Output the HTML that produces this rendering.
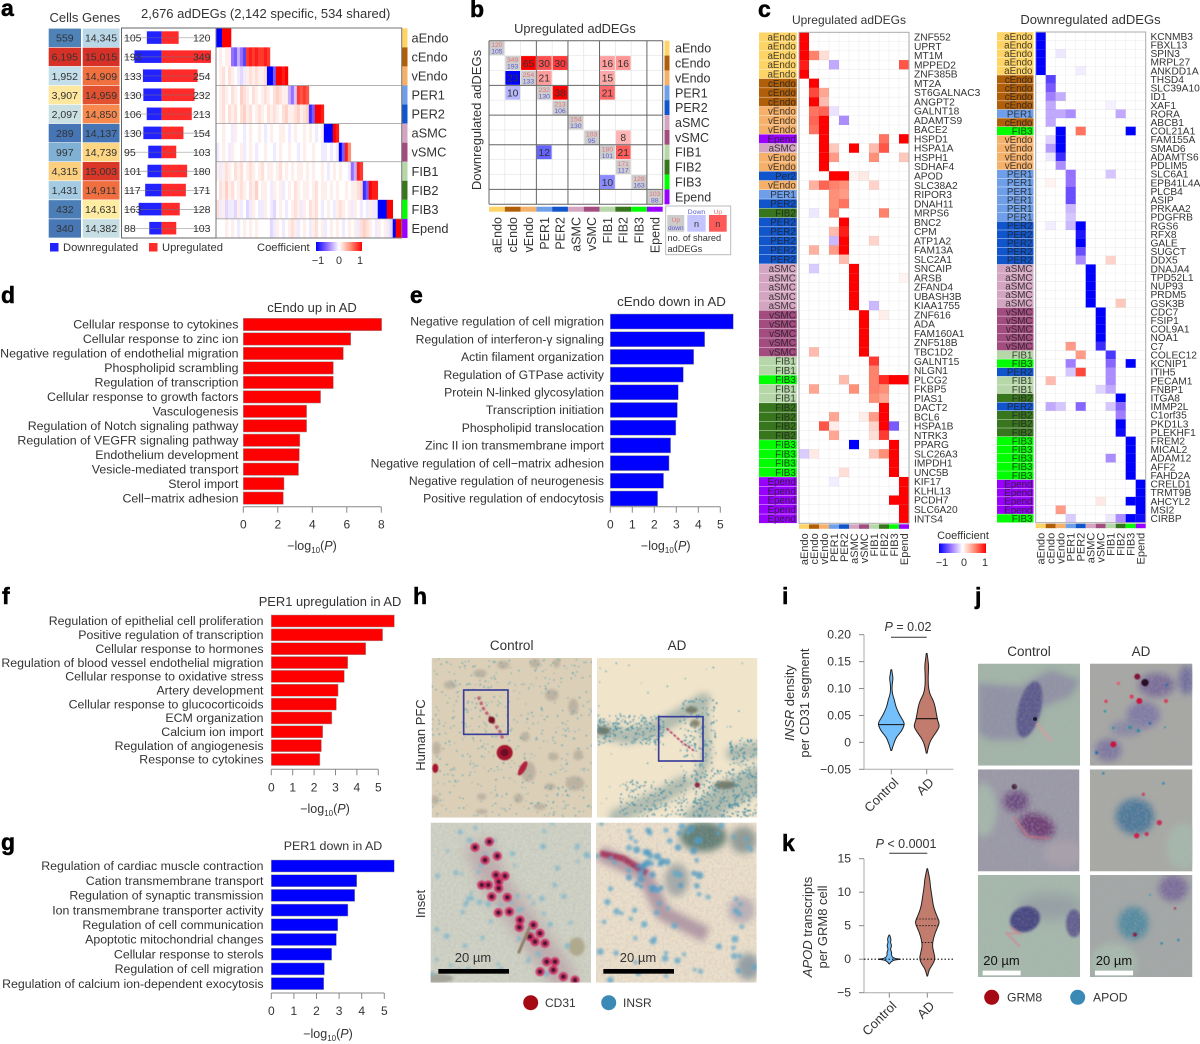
<!DOCTYPE html>
<html lang="en">
<head>
<meta charset="utf-8">
<title>adDEG figure</title>
<style>
html,body{margin:0;padding:0;background:#fff;}
svg{display:block;font-family:"Liberation Sans",Arial,sans-serif;fill:#333;}
.panel-letter{font-family:"Liberation Sans",sans-serif;font-weight:bold;font-size:23px;fill:#000;stroke:#000;stroke-width:.5px;}
</style>
</head>
<body>
<svg id="figure" xmlns="http://www.w3.org/2000/svg" width="1200" height="1044" viewBox="0 0 1200 1044">
<defs>
<linearGradient id="coefGrad" x1="0" x2="1" y1="0" y2="0">
<stop offset="0" stop-color="#0000ff"/><stop offset=".25" stop-color="#9670ff"/><stop offset=".5" stop-color="#ffffff"/><stop offset=".75" stop-color="#ff9078"/><stop offset="1" stop-color="#ff0000"/>
</linearGradient>
<filter id="blur2" x="-10%" y="-10%" width="120%" height="120%"><feGaussianBlur stdDeviation="1.6"/></filter>
<filter id="blur4" x="-30%" y="-30%" width="160%" height="160%"><feGaussianBlur stdDeviation="4"/></filter>
<filter id="blur10" x="-30%" y="-30%" width="160%" height="160%"><feGaussianBlur stdDeviation="10"/></filter>
<filter id="blur18" x="-40%" y="-40%" width="180%" height="180%"><feGaussianBlur stdDeviation="18"/></filter>
<filter id="grain" x="0" y="0" width="100%" height="100%"><feTurbulence type="fractalNoise" baseFrequency=".12" numOctaves="2" seed="4"/><feColorMatrix type="matrix" values="0 0 0 0 .42  0 0 0 0 .38  0 0 0 0 .46  0 0 0 1.6 -.62"/></filter>
<clipPath id="cH1"><rect x="35" y="54" width="481" height="479"/></clipPath>
<clipPath id="cH2"><rect x="531" y="54" width="481" height="479"/></clipPath>
<clipPath id="cH3"><rect x="32" y="548" width="481" height="480"/></clipPath>
<clipPath id="cH4"><rect x="528" y="548" width="482" height="480"/></clipPath>
<clipPath id="cJ1"><rect x="24" y="71" width="306" height="306"/></clipPath>
<clipPath id="cJ2"><rect x="24" y="388" width="304" height="306"/></clipPath>
<clipPath id="cJ3"><rect x="24" y="705" width="306" height="306"/></clipPath>
<clipPath id="cJ4"><rect x="360" y="71" width="307" height="306"/></clipPath>
<clipPath id="cJ5"><rect x="360" y="388" width="307" height="306"/></clipPath>
<clipPath id="cJ6"><rect x="360" y="705" width="307" height="306"/></clipPath>
</defs>

<text class="panel-letter" x="1" y="16">a</text>
<text class="panel-letter" x="470" y="17">b</text>
<text class="panel-letter" x="758" y="17">c</text>
<text class="panel-letter" x="1" y="303">d</text>
<text class="panel-letter" x="410" y="303">e</text>
<text class="panel-letter" x="2" y="604">f</text>
<text class="panel-letter" x="1" y="850">g</text>
<text class="panel-letter" x="413" y="604">h</text>
<text class="panel-letter" x="782" y="604">i</text>
<text class="panel-letter" x="975" y="604">j</text>
<text class="panel-letter" x="782" y="851">k</text>

<g id="panel-a">
<text x="49.5" y="22" font-size="13">Cells</text>
<text x="82" y="22" font-size="13">Genes</text>
<text x="141" y="18" font-size="13">2,676 adDEGs (2,142 specific, 534 shared)</text>
<rect x="50" y="243" width="8.5" height="8.5" fill="#2222ff"/>
<text x="63" y="251" font-size="11.2">Downregulated</text>
<rect x="149" y="243" width="8.5" height="8.5" fill="#ff2a2a"/>
<text x="162" y="251" font-size="11.2">Upregulated</text>
<text x="257" y="251" font-size="11.2">Coefficient</text>
<rect x="316" y="242" width="46" height="9" fill="url(#coefGrad)"/>
<text x="318" y="264" font-size="10.8" text-anchor="middle">−1</text>
<text x="339" y="264" font-size="10.8" text-anchor="middle">0</text>
<text x="360" y="264" font-size="10.8" text-anchor="middle">1</text>
</g>

<g id="panel-b">
<text x="575" y="33" font-size="12.8" text-anchor="middle">Upregulated adDEGs</text>
<text transform="translate(481,120) rotate(-90)" font-size="13" text-anchor="middle">Downregulated adDEGs</text>
<rect x="665.7" y="206" width="65" height="48.7" fill="#fff" stroke="#bbb"/>
<rect x="667.3" y="215" width="17" height="16.7" fill="#ccc"/>
<text x="675.8" y="222" font-size="6.5" text-anchor="middle" fill="#e57373">Up</text>
<text x="675.8" y="230" font-size="6.5" text-anchor="middle" fill="#5a5ad6">down</text>
<rect x="687.3" y="215" width="18.4" height="16.7" fill="#c4c4ff"/>
<text x="696.5" y="227" font-size="9" text-anchor="middle">n</text>
<text x="696.5" y="214" font-size="6.8" text-anchor="middle" fill="#5a5ad6">Down</text>
<rect x="709" y="215" width="17.7" height="16.7" fill="#ff5a5a"/>
<text x="717.8" y="227" font-size="9" text-anchor="middle">n</text>
<text x="717.8" y="214" font-size="6.8" text-anchor="middle" fill="#e57373">Up</text>
<text x="667.5" y="241" font-size="9.2">no. of shared</text>
<text x="667.5" y="252" font-size="9.2">adDEGs</text>
</g>

<g id="panel-c">
<text x="849" y="24" font-size="12" text-anchor="middle">Upregulated adDEGs</text>
<text x="1090.5" y="24" font-size="13" text-anchor="middle">Downregulated adDEGs</text>
<text x="963" y="539" font-size="11" text-anchor="middle">Coefficient</text>
<rect x="939" y="543.5" width="47" height="9.5" fill="url(#coefGrad)"/>
<text x="942" y="566" font-size="10.8" text-anchor="middle">−1</text>
<text x="964" y="566" font-size="10.8" text-anchor="middle">0</text>
<text x="985" y="566" font-size="10.8" text-anchor="middle">1</text>
</g>

<g id="panel-d">
<text x="312" y="312" font-size="13" text-anchor="middle">cEndo up in AD</text>
<text x="312" y="550" font-size="12.5" text-anchor="middle">−log<tspan font-size="8" dy="3">10</tspan><tspan dy="-3">(</tspan><tspan font-style="italic">P</tspan>)</text>
</g>
<g id="panel-e">
<text x="671.5" y="306" font-size="13.3" text-anchor="middle">cEndo down in AD</text>
<text x="665.7" y="550" font-size="12.5" text-anchor="middle">−log<tspan font-size="8" dy="3">10</tspan><tspan dy="-3">(</tspan><tspan font-style="italic">P</tspan>)</text>
</g>
<g id="panel-f">
<text x="330" y="606" font-size="12.9" text-anchor="middle">PER1 upregulation in AD</text>
<text x="325" y="813" font-size="12.5" text-anchor="middle">−log<tspan font-size="8" dy="3">10</tspan><tspan dy="-3">(</tspan><tspan font-style="italic">P</tspan>)</text>
</g>
<g id="panel-g">
<text x="333" y="850" font-size="12.4" text-anchor="middle">PER1 down in AD</text>
<text x="328" y="1038" font-size="12.5" text-anchor="middle">−log<tspan font-size="8" dy="3">10</tspan><tspan dy="-3">(</tspan><tspan font-style="italic">P</tspan>)</text>
</g>

<g id="panel-h">
<text x="511.7" y="650" font-size="13.5" text-anchor="middle">Control</text>
<text x="677" y="650" font-size="13.5" text-anchor="middle">AD</text>
<text transform="translate(425,735) rotate(-90)" font-size="13" text-anchor="middle">Human PFC</text>
<text transform="translate(425,904) rotate(-90)" font-size="13" text-anchor="middle">Inset</text>
<g transform="translate(420,640) scale(.33333)">
<g id="h1" clip-path="url(#cH1)">
<rect x="35" y="54" width="481" height="479" fill="#dccfb8"/>
<g fill="#a29c90" opacity=".55" filter="url(#blur4)">
<ellipse cx="180" cy="100" rx="20" ry="12"/><ellipse cx="90" cy="135" rx="18" ry="12"/><ellipse cx="250" cy="75" rx="18" ry="12"/><ellipse cx="345" cy="70" rx="16" ry="14"/><ellipse cx="410" cy="70" rx="10" ry="14"/><ellipse cx="395" cy="165" rx="20" ry="18"/><ellipse cx="460" cy="200" rx="15" ry="24"/><ellipse cx="315" cy="290" rx="14" ry="14"/><ellipse cx="475" cy="345" rx="14" ry="16"/><ellipse cx="400" cy="350" rx="16" ry="12"/><ellipse cx="465" cy="430" rx="28" ry="22"/><ellipse cx="295" cy="475" rx="14" ry="14"/><ellipse cx="185" cy="470" rx="14" ry="10"/><ellipse cx="185" cy="515" rx="18" ry="8"/><ellipse cx="360" cy="500" rx="18" ry="10"/><ellipse cx="50" cy="325" rx="12" ry="20"/><ellipse cx="45" cy="480" rx="12" ry="14"/><ellipse cx="325" cy="395" rx="22" ry="30"/><ellipse cx="390" cy="440" rx="16" ry="10"/>
</g>
<g id="h1-dots" filter="url(#blur2)"></g>
<g filter="url(#blur2)">
<path d="M175 170 L190 205 L215 240 L240 275 L250 300" stroke="#b23a58" stroke-width="9" stroke-dasharray="10 7" fill="none" opacity=".75"/>
<ellipse cx="254" cy="338" rx="24" ry="23" fill="#a5142e"/><ellipse cx="254" cy="338" rx="12" ry="11" fill="#6a0f26"/>
<ellipse cx="215" cy="240" rx="10" ry="10" fill="#761425"/><ellipse cx="308" cy="385" rx="9" ry="24" fill="#b5203c" transform="rotate(30 308 385)"/><ellipse cx="46" cy="385" rx="9" ry="14" fill="#a5142e"/>
</g>
</g>
<g id="h2" clip-path="url(#cH2)">
<rect x="531" y="54" width="481" height="479" fill="#f0e4cb"/>
<g fill="none" stroke="#87a09c" opacity=".6" filter="url(#blur10)" stroke-linecap="round">
<path d="M531 270 L620 290 L700 270 L790 220 L850 180" stroke-width="44"/>
<path d="M590 530 L720 470 L790 430" stroke-width="46"/>
<path d="M830 540 L910 470 L1012 420" stroke-width="80"/>
<path d="M850 200 L860 350 L830 430" stroke-width="26"/>
<path d="M940 340 L1012 330" stroke-width="44"/>
</g>
<g fill="#5e5f4c" opacity=".7" filter="url(#blur4)"><ellipse cx="815" cy="210" rx="18" ry="10"/><ellipse cx="550" cy="272" rx="20" ry="12"/><ellipse cx="915" cy="435" rx="32" ry="12"/><ellipse cx="825" cy="250" rx="14" ry="12"/></g>
<g id="h2-dots" filter="url(#blur2)"></g>
<path d="M740 265 L790 310 L822 332" stroke="#ad3a66" stroke-width="5" fill="none" stroke-dasharray="9 5" filter="url(#blur2)"/>
<circle cx="832" cy="435" r="8" fill="#8c2c4a" filter="url(#blur2)"/>
</g>
<rect x="131" y="150" width="133" height="133" fill="none" stroke="#3a3f9a" stroke-width="5"/>
<rect x="716" y="230" width="133" height="133" fill="none" stroke="#3a3f9a" stroke-width="5"/>
<g id="h3" clip-path="url(#cH3)">
<rect x="32" y="548" width="481" height="480" fill="#cfd2c4"/>
<path d="M170 610 L230 740 L320 860 L440 1030" stroke="#b99ea4" stroke-width="80" fill="none" opacity=".7" filter="url(#blur18)"/>
<ellipse cx="470" cy="920" rx="24" ry="28" fill="#a9a17e" opacity=".8" filter="url(#blur4)"/>
<ellipse cx="50" cy="1015" rx="50" ry="14" fill="#9a9a8c" opacity=".8" filter="url(#blur4)"/>
<g id="h3-dots" filter="url(#blur4)"></g>
<rect x="32" y="548" width="481" height="480" filter="url(#grain)" opacity=".35"/>
<g id="h3-red" filter="url(#blur2)"></g>
<path d="M330 860 L295 940" stroke="#8d8468" stroke-width="9" filter="url(#blur2)"/>
</g>
<g id="h4" clip-path="url(#cH4)">
<rect x="528" y="548" width="482" height="480" fill="#ebdfca"/>
<ellipse cx="850" cy="590" rx="70" ry="45" fill="#4e7068" opacity=".85" filter="url(#blur10)"/>
<ellipse cx="970" cy="600" rx="40" ry="40" fill="#7a8b88" opacity=".8" filter="url(#blur10)"/>
<path d="M540 640 L670 700 L730 820 L860 885" stroke="#a48a9c" stroke-width="46" fill="none" opacity=".8" filter="url(#blur10)"/>
<ellipse cx="770" cy="720" rx="36" ry="50" fill="#8f9a9c" opacity=".75" filter="url(#blur10)"/>
<ellipse cx="965" cy="810" rx="40" ry="40" fill="#a89eb0" opacity=".7" filter="url(#blur10)"/>
<ellipse cx="985" cy="980" rx="34" ry="40" fill="#7d8f9a" opacity=".8" filter="url(#blur10)"/>
<path d="M540 640 L610 655 L680 700" stroke="#a31a48" stroke-width="18" fill="none" opacity=".8" filter="url(#blur4)"/>
<g id="h4-dots" filter="url(#blur4)"></g>
<rect x="528" y="548" width="482" height="480" filter="url(#grain)" opacity=".35"/>
</g>
<rect x="55" y="987" width="212" height="14" fill="#000"/>
<rect x="550" y="987" width="212" height="14" fill="#000"/>
</g>
<text x="473" y="962" font-size="13" text-anchor="middle">20 µm</text>
<text x="638" y="962" font-size="13" text-anchor="middle">20 µm</text>
<circle cx="530.7" cy="1002.7" r="7.5" fill="#a50a14"/>
<text x="545" y="1007" font-size="12">CD31</text>
<circle cx="608.7" cy="1002.7" r="7.5" fill="#3a8ab5"/>
<text x="623" y="1007" font-size="12">INSR</text>
</g>

<g id="panel-i">
<text x="908" y="631" font-size="12.5" text-anchor="middle"><tspan font-style="italic">P</tspan> = 0.02</text>
<line x1="891" x2="926.7" y1="637.3" y2="637.3" stroke="#333" stroke-width="1"/>
<text transform="translate(794,703) rotate(-90)" font-size="13" text-anchor="middle"><tspan font-style="italic">INSR</tspan> density</text>
<text transform="translate(809,703) rotate(-90)" font-size="13" text-anchor="middle">per CD31 segment</text>
</g>
<g id="panel-k">
<text x="906" y="848" font-size="12.5" text-anchor="middle"><tspan font-style="italic">P</tspan> &lt; 0.0001</text>
<line x1="889.3" x2="927.3" y1="853.3" y2="853.3" stroke="#333" stroke-width="1"/>
<text transform="translate(812,927) rotate(-90)" font-size="13" text-anchor="middle"><tspan font-style="italic">APOD</tspan> transcripts</text>
<text transform="translate(827,927) rotate(-90)" font-size="13" text-anchor="middle">per GRM8 cell</text>
</g>

<g id="panel-j">
<text x="1029" y="656" font-size="13.5" text-anchor="middle">Control</text>
<text x="1141" y="656" font-size="13.5" text-anchor="middle">AD</text>
<g transform="translate(970,640) scale(.33333)">
<g clip-path="url(#cJ1)">
<rect x="24" y="71" width="306" height="306" fill="#a3b5a8"/>
<path d="M24 130 L150 140 L240 90 L330 120 L300 170 L220 200 L190 260 L160 300 L60 300 L24 280Z" fill="#8f8fa4" opacity=".9" filter="url(#blur10)"/>
<ellipse cx="178" cy="208" rx="34" ry="86" transform="rotate(14 178 208)" fill="#5d5b8c" filter="url(#blur4)"/>
<path d="M200 250 L245 305" stroke="#d99aa0" stroke-width="10" fill="none" opacity=".6" filter="url(#blur2)"/>
<circle cx="195" cy="237" r="6" fill="#1e1630"/>
<rect x="24" y="71" width="306" height="306" filter="url(#grain)" opacity=".3"/>
</g>
<g clip-path="url(#cJ2)">
<rect x="24" y="388" width="304" height="306" fill="#9a99a6"/>
<ellipse cx="40" cy="510" rx="40" ry="80" fill="#a6b8ac" filter="url(#blur10)"/>
<ellipse cx="280" cy="640" rx="60" ry="40" fill="#a8a0aa" filter="url(#blur10)"/>
<ellipse cx="138" cy="484" rx="38" ry="32" fill="#6d4d80" filter="url(#blur10)"/>
<ellipse cx="200" cy="558" rx="56" ry="36" transform="rotate(20 200 558)" fill="#6e3f74" filter="url(#blur10)"/>
<path d="M130 530 L175 590 L240 595" stroke="#d0707e" stroke-width="7" fill="none" opacity=".6" filter="url(#blur2)"/>
<circle cx="133" cy="440" r="8" fill="#3d2030" filter="url(#blur2)"/>
<rect x="24" y="388" width="304" height="306" filter="url(#grain)" opacity=".55"/>
</g>
<g clip-path="url(#cJ3)">
<rect x="24" y="705" width="306" height="306" fill="#a6b8ac"/>
<ellipse cx="240" cy="800" rx="100" ry="40" fill="#8f96a0" opacity=".7" filter="url(#blur18)"/>
<ellipse cx="165" cy="838" rx="46" ry="38" transform="rotate(-20 165 838)" fill="#484a82" filter="url(#blur4)"/>
<ellipse cx="312" cy="850" rx="24" ry="42" fill="#63608f" filter="url(#blur4)"/>
<path d="M120 860 L150 880 L110 880 L150 920" stroke="#da7f8d" stroke-width="7" fill="none" opacity=".55" filter="url(#blur2)"/>
<rect x="24" y="705" width="306" height="306" filter="url(#grain)" opacity=".3"/>
</g>
<g clip-path="url(#cJ4)">
<rect x="360" y="71" width="307" height="306" fill="#a7a8a4"/>
<g filter="url(#blur10)"><ellipse cx="560" cy="135" rx="55" ry="36" fill="#7c6f99"/>
<ellipse cx="520" cy="225" rx="50" ry="40" fill="#807ca4"/>
<ellipse cx="470" cy="265" rx="50" ry="24" fill="#8a8aa4"/>
<ellipse cx="415" cy="330" rx="40" ry="34" fill="#7f79a0"/>
<ellipse cx="650" cy="120" rx="24" ry="44" fill="#716f9e"/></g>
<rect x="360" y="71" width="307" height="306" filter="url(#grain)" opacity=".45"/>
<g filter="url(#blur2)"><circle cx="525" cy="128" r="11" fill="#2a0f26"/><circle cx="502" cy="110" r="9" fill="#801538"/><circle cx="508" cy="183" r="9" fill="#c9183f"/><circle cx="430" cy="313" r="9" fill="#c9183f"/><circle cx="445" cy="130" r="5" fill="#e25f74"/><circle cx="408" cy="184" r="5" fill="#d83f5c"/><circle cx="485" cy="170" r="6" fill="#d83f5c"/><circle cx="588" cy="183" r="6" fill="#d83f5c"/>
<circle cx="405" cy="214" r="4" fill="#2f9a9f"/><circle cx="430" cy="264" r="4" fill="#2f9a9f"/><circle cx="480" cy="262" r="5" fill="#2f8da6"/><circle cx="505" cy="272" r="5" fill="#2f8da6"/><circle cx="380" cy="338" r="5" fill="#2f6fa6"/><circle cx="540" cy="250" r="4" fill="#2f6fa6"/><circle cx="590" cy="135" r="4" fill="#2f6fa6"/><circle cx="585" cy="262" r="3" fill="#2f9a9f"/></g>
</g>
<g clip-path="url(#cJ5)">
<rect x="360" y="388" width="307" height="306" fill="#a8aaa4"/>
<ellipse cx="640" cy="620" rx="50" ry="70" fill="#a6b8ac" filter="url(#blur10)"/>
<ellipse cx="495" cy="530" rx="58" ry="54" fill="#4f7a9a" filter="url(#blur10)"/>
<rect x="360" y="388" width="307" height="306" filter="url(#grain)" opacity=".45"/>
<g filter="url(#blur2)"><circle cx="500" cy="587" r="8" fill="#d0214a"/><circle cx="530" cy="582" r="6" fill="#c63058"/><circle cx="568" cy="548" r="8" fill="#c63058"/>
<circle cx="400" cy="400" r="4" fill="#3a8ab5"/><circle cx="580" cy="430" r="4" fill="#3a8ab5"/><circle cx="520" cy="463" r="5" fill="#c44a66"/></g>
</g>
<g clip-path="url(#cJ6)">
<rect x="360" y="705" width="307" height="306" fill="#a3a8a6"/>
<ellipse cx="430" cy="970" rx="70" ry="60" fill="#a8bbaf" filter="url(#blur10)"/>
<ellipse cx="610" cy="745" rx="44" ry="40" fill="#7c6e9a" filter="url(#blur10)"/>
<ellipse cx="490" cy="850" rx="46" ry="50" fill="#558ca0" filter="url(#blur10)"/>
<rect x="360" y="705" width="307" height="306" filter="url(#grain)" opacity=".45"/>
<g filter="url(#blur2)"><circle cx="495" cy="884" r="6" fill="#8c2048"/><circle cx="575" cy="910" r="4" fill="#3a8ab5"/><circle cx="625" cy="900" r="4" fill="#3a8ab5"/><circle cx="540" cy="765" r="3" fill="#3a9ab5"/><circle cx="615" cy="805" r="4" fill="#a84a66"/></g>
</g>
<rect x="38" y="992" width="114" height="14" fill="#fff"/>
<rect x="375" y="992" width="114" height="14" fill="#fff"/>
</g>
<text x="1001.5" y="965" font-size="13" text-anchor="middle" fill="#111">20 µm</text>
<text x="1114" y="965" font-size="13" text-anchor="middle" fill="#111">20 µm</text>
<circle cx="991.7" cy="997.3" r="7.5" fill="#a50a14"/>
<text x="1007" y="1001.5" font-size="12.2">GRM8</text>
<circle cx="1077.7" cy="997.3" r="7.5" fill="#3a8ab5"/>
<text x="1093" y="1001.5" font-size="12.2">APOD</text>
</g>
</svg>

<script>
/* ---------- shared categories ---------- */
const clusterNames = ['aEndo','cEndo','vEndo','PER1','PER2','aSMC','vSMC','FIB1','FIB2','FIB3','Epend'];
const clusterPalette = {aEndo:'#ffd466',cEndo:'#b05e08',vEndo:'#f5b06a',PER1:'#6f9fe8',PER2:'#1155cc',Per2:'#1155cc',aSMC:'#d3a5c0',vSMC:'#a34c80',FIB1:'#b6d7a8',FIB2:'#38761d',FIB3:'#00ff00',Epend:'#9900ff'};

/* ---------- panel a data ---------- */
const cellCounts = [559,6195,1952,3907,2097,289,997,4315,1431,432,340];
const geneCounts = [14345,15015,14909,14959,14850,14137,14739,15003,14911,14631,14382];
const downCounts = [105,193,133,130,106,130,95,101,117,163,88];
const upCounts = [120,349,254,232,213,154,103,180,171,128,103];
/* coefficient per gene bin, in tenths */
const coefBinsAEndo = [-10,-10,10,10,10];
const coefBinsCEndo = [0,1,0,1,1,-5,-6,-4,-5,-7,8,9,8,9,8,8,9,8];
const coefBinsVEndo = [0,1,2,0,2,1,0,-1,-2,-1,1,2,1,2,1,1,2,-10,-10,-6,10,10,9,10];
const coefBinsPER1 = [0,1,2,1,0,2,1,0,3,2,1,0,2,1,0,1,2,1,0,2,3,2,1,1,-4,-5,-3,8,7,8,7];
const coefBinsPER2 = [0,1,2,0,2,1,2,0,2,3,1,2,0,1,2,1,0,2,1,2,1,0,2,3,1,1,2,3,1,2,3,-8,-6,10,10,9];
const coefBinsASMC = [0,0,1,0,0,-1,1,0,0,-1,0,1,0,0,1,0,-1,0,1,0,0,1,1,0,-1,0,1,0,0,1,0,1,0,-1,0,1,-10,-10,-10,10,9];
const coefBinsVSMC = [-1,0,1,0,-1,1,0,0,1,-1,0,1,0,-1,0,0,1,0,0,-1,0,1,0,0,1,0,0,-1,0,1,0,0,1,0,0,-1,-1,0,-1,0,-1,-10,-6,9,5];
const coefBinsFIB1 = [1,-1,1,2,1,0,2,1,2,0,1,2,1,0,1,2,0,1,1,0,1,2,0,1,0,1,0,1,1,0,1,0,1,0,0,1,0,-1,0,1,0,1,0,0,-1,-5,-4,9,8];
const coefBinsFIB2 = [0,2,1,3,1,2,0,1,2,1,0,2,1,3,0,1,1,0,-1,1,0,1,-1,0,1,0,2,1,0,1,1,0,1,2,0,1,1,0,1,0,1,0,0,1,0,1,1,2,3,-8,-6,10,9,9];
const coefBinsFIB3 = [2,-1,1,-2,-1,-1,-2,1,-1,0,-2,-1,1,0,-1,-1,1,0,-1,-2,0,1,0,-1,0,1,2,1,-1,1,0,2,1,2,0,-1,0,1,0,-1,1,2,1,0,1,-1,1,0,-1,0,-1,1,-1,-1,-10,-10,-10,10,10];
const coefBinsEpend = [0,0,0,1,0,1,0,-1,0,1,0,1,0,1,0,0,0,0,-2,-1,1,0,-1,0,1,2,1,-1,0,1,0,-1,1,2,0,1,-1,0,1,0,1,0,-1,0,1,0,1,-1,2,3,2,1,0,-1,1,0,1,-1,-2,-10,10,10];
const coefBinRows = [coefBinsAEndo,coefBinsCEndo,coefBinsVEndo,coefBinsPER1,coefBinsPER2,coefBinsASMC,coefBinsVSMC,coefBinsFIB1,coefBinsFIB2,coefBinsFIB3,coefBinsEpend];

/* ---------- panel b data: [row, column, shared count] ---------- */
const sharedUpPairs = [[1,2,65],[1,3,30],[1,4,30],[1,7,16],[1,8,16],[2,3,21],[2,7,15],[3,4,38],[3,7,21],[6,8,8],[7,8,21]];
const sharedDownPairs = [[2,1,23],[3,1,10],[7,3,12],[9,7,10]];

/* ---------- panel c data ---------- */
const upHeatClusters = ['aEndo','aEndo','aEndo','aEndo','aEndo','cEndo','cEndo','cEndo','vEndo','vEndo','vEndo','Epend','aSMC','vEndo','vEndo','Per2','vEndo','PER1','PER2','FIB2','PER2','PER2','PER2','PER2','PER2','aSMC','aSMC','aSMC','aSMC','aSMC','vSMC','vSMC','vSMC','vSMC','vSMC','FIB1','FIB1','FIB3','FIB1','FIB1','FIB2','FIB2','FIB2','FIB2','FIB3','FIB3','FIB3','FIB3','Epend','Epend','Epend','Epend','Epend'];
const upHeatGenes = ['ZNF552','UPRT','MT1M','MPPED2','ZNF385B','MT2A','ST6GALNAC3','ANGPT2','GALNT18','ADAMTS9','BACE2','HSPD1','HSPA1A','HSPH1','SDHAF4','APOD','SLC38A2','RIPOR3','DNAH11','MRPS6','BNC2','CPM','ATP1A2','FAM13A','SLC2A1','SNCAIP','ARSB','ZFAND4','UBASH3B','KIAA1755','ZNF616','ADA','FAM160A1','ZNF518B','TBC1D2','GALNT15','NLGN1','PLCG2','FKBP5','PIAS1','DACT2','BCL6','HSPA1B','NTRK3','PPARG','SLC26A3','IMPDH1','UNC5B','KIF17','KLHL13','PCDH7','SLC6A20','INTS4'];
const upHeatValues = [
[1,0,0,0,0,0,0,0,0,0,0],[1,0,0,0,0,0,0,0,0,0,0],[1,.55,.15,0,0,0,0,0,0,0,0],[.9,0,0,-.3,0,0,0,0,0,0,.7],[1,0,0,0,0,0,0,0,0,0,0],
[0,1,0,0,0,0,0,0,0,0,0],[0,.75,.4,0,0,0,0,0,0,0,0],[0,1,.3,0,0,0,0,0,0,0,0],
[0,.6,.65,-.1,0,0,0,0,0,0,0],[0,.65,1,0,-.4,0,0,0,0,0,0],[0,.6,1,0,0,0,0,0,0,0,0],
[0,0,1,0,0,0,0,0,.6,0,1],[0,0,1,.25,0,1,0,.3,.7,0,0],[0,0,1,.45,0,0,0,.5,0,0,.25],[0,0,1,0,0,0,0,0,0,0,0],
[0,0,0,1,1,.05,.1,0,0,0,0],[0,.35,.65,.55,.5,0,0,.2,0,0,0],[0,0,0,.5,.45,0,0,0,0,0,0],[0,0,0,.5,.6,0,0,0,0,0,0],[0,-.08,0,.55,0,0,0,0,.55,0,0],
[0,0,0,0,1,0,0,0,0,0,0],[0,0,0,.3,.9,0,0,0,0,0,0],[0,0,0,-.25,1,0,0,.2,0,0,0],[0,.35,0,.45,1,0,0,0,0,0,0],[0,0,0,0,.3,0,0,0,0,0,0],
[0,-.18,0,0,0,1,0,0,0,0,0],[0,0,0,0,0,1,0,0,0,0,.05],[0,0,0,0,0,1,0,0,0,0,0],[0,0,0,0,0,1,0,0,0,0,0],[0,0,0,0,0,1,0,-.25,0,0,0],
[0,0,0,0,0,0,1,0,.08,0,0],[0,0,0,0,0,0,1,0,0,0,0],[0,0,0,0,0,0,1,0,0,0,0],[0,0,0,0,0,0,1,0,0,0,0],[0,.3,0,0,0,0,1,0,0,0,0],
[0,0,0,0,0,0,0,.8,0,0,0],[0,0,0,0,0,0,0,.55,0,0,0],[0,0,0,0,.3,0,0,.55,.85,1,1],[0,.4,0,0,0,.5,0,.55,.5,0,0],[0,0,0,0,0,0,0,.5,.4,0,0],
[0,0,0,0,0,0,0,0,1,0,0],[0,0,0,.4,0,0,.08,.45,1,0,0],[0,0,.7,.08,0,0,0,.2,1,-.6,0],[0,0,0,.4,0,0,0,.15,.8,0,0],
[0,0,0,0,0,-1,0,0,0,1,0],[-.18,.1,0,0,0,0,0,.25,.5,1,0],[0,0,0,0,0,0,0,0,0,1,0],[0,0,0,0,.15,0,0,0,0,1,0],
[0,0,0,-.06,0,0,0,0,0,0,1],[0,0,0,0,0,0,0,0,0,0,1],[0,0,0,0,0,0,0,0,0,1,1],[0,0,0,0,0,0,0,0,0,0,1],[0,0,0,0,0,0,0,0,0,0,1]
];
const downHeatClusters = ['aEndo','aEndo','aEndo','aEndo','aEndo','cEndo','cEndo','cEndo','cEndo','PER1','cEndo','FIB3','vEndo','vEndo','vEndo','vEndo','PER1','PER1','PER1','PER1','PER1','PER1','PER2','PER2','PER2','PER2','PER2','aSMC','aSMC','aSMC','aSMC','aSMC','vSMC','vSMC','vSMC','vSMC','vSMC','FIB1','FIB3','PER2','FIB1','FIB1','FIB2','PER2','FIB2','FIB2','FIB2','FIB3','FIB3','FIB3','FIB3','FIB3','Epend','Epend','Epend','Epend','FIB3'];
const downHeatGenes = ['KCNMB3','FBXL13','SPIN3','MRPL27','ANKDD1A','THSD4','SLC39A10','ID1','XAF1','RORA','ABCB1','COL21A1','FAM155A','SMAD6','ADAMTS6','PDLIM5','SLC6A1','EPB41L4A','PLCB4','ASIP','PRKAA2','PDGFRB','RGS6','RFX8','GALE','SUGCT','DDX5','DNAJA4','TPD52L1','NUP93','PRDM5','GSK3B','CDC7','FSIP1','COL9A1','NOA1','C7','COLEC12','KCNIP1','ITIH5','PECAM1','FNBP1','ITGA8','IMMP2L','C1orf35','PKD1L3','PLEKHF1','FREM2','MICAL2','ADAM12','AFF2','FAHD2A','CRELD1','TRMT9B','AHCYL2','MSI2','CIRBP'];
const downHeatValues = [
[-1,0,0,0,0,0,0,0,0,0,0],[-1,0,0,0,0,0,0,0,0,0,0],[-1,0,-.08,0,0,0,0,0,0,0,0],[-1,0,0,0,0,0,0,0,0,0,0],[-1,0,0,0,-.06,0,0,0,0,0,0],
[0,-.7,0,0,0,0,0,0,0,0,0],[0,-.6,0,0,0,0,0,0,0,0,0],[0,-.45,-.28,0,0,0,0,0,0,0,0],[0,-.3,0,0,0,0,0,-.05,0,0,0],[0,-.3,-.3,-.4,0,0,0,0,-.3,0,0],[0,-.3,0,0,0,0,0,0,0,0,0],
[0,0,-1,0,.6,0,0,0,0,-1,0],
[0,-.15,-1,0,0,0,0,0,0,0,0],[0,-.35,-1,0,0,0,0,0,0,0,0],[0,-.08,-.8,0,0,0,0,0,0,0,0],[0,0,-.4,0,0,0,0,0,0,0,0],
[0,0,0,-.5,0,0,0,-.2,0,0,0],[0,.05,0,-.5,0,0,0,0,0,0,0],[0,0,0,-.65,0,0,0,0,0,0,0],[0,0,0,-.65,0,0,0,0,0,0,0],[0,0,0,-.25,0,0,0,0,0,0,0],[0,0,0,-.2,0,0,0,0,0,0,0],
[0,-.06,0,-.25,-1,0,0,0,0,0,0],[0,0,0,0,-.9,0,0,0,0,0,0],[0,0,0,0,-1,0,0,0,0,0,0],[0,0,0,0,-.65,0,0,0,0,0,0],[0,0,0,0,-.4,0,0,.2,0,0,0],
[0,0,0,0,0,-1,0,0,0,0,0],[0,0,0,0,0,-1,0,0,0,0,0],[0,0,0,0,0,-1,0,0,0,0,0],[0,0,0,0,0,-1,0,0,0,0,0],[0,0,0,0,0,-1,0,0,.25,0,0],
[0,0,0,0,0,0,-1,0,0,0,0],[0,0,0,0,0,0,-1,0,0,0,0],[0,0,0,0,0,0,-1,0,0,0,0],[0,0,0,0,0,0,-1,0,0,0,0],[0,0,0,.45,0,0,-.8,0,0,0,0],
[0,0,0,0,.45,0,0,-.75,0,0,0],[0,0,0,-.45,0,0,0,-.55,0,-1,0],[0,0,0,-.2,.75,0,0,-.4,0,0,0],[0,.3,0,0,0,0,0,-.4,0,0,0],[0,0,0,0,0,0,-.15,-.3,0,0,0],
[0,0,0,0,0,0,0,0,-1,0,0],[0,-.3,-.2,0,-.55,0,0,-.2,-.55,0,0],[0,0,0,0,0,0,0,0,-.45,0,0],[0,0,0,0,0,0,0,0,-1,0,0],[0,0,0,0,0,0,0,0,-.95,0,0],
[0,0,0,0,0,0,0,0,0,-1,0],[0,0,0,0,0,0,0,0,0,-1,0],[0,0,0,0,0,0,0,-.4,0,-1,0],[0,0,0,0,0,0,0,0,0,-1,0],[0,0,0,0,0,0,0,0,0,-1,0],
[0,0,0,0,0,0,0,0,0,0,-1],[0,0,0,0,0,0,0,0,0,0,-1],[0,0,0,0,0,0,.1,0,0,-1,-1],[0,0,.45,0,0,0,0,0,0,0,-1],[0,0,0,-.18,0,0,0,-.08,-.4,-1,-.95]
];

/* ---------- panels d-g data ---------- */
const cEndoUpTerms = ['Cellular response to cytokines','Cellular response to zinc ion','Negative regulation of endothelial migration','Phospholipid scrambling','Regulation of transcription','Cellular response to growth factors','Vasculogenesis','Regulation of Notch signaling pathway','Regulation of VEGFR signaling pathway','Endothelium development','Vesicle-mediated transport','Sterol import','Cell−matrix adhesion'];
const cEndoUpValues = [8.02,6.23,5.8,5.22,5.22,4.48,3.67,3.67,3.28,3.25,3.2,2.36,2.32];
const cEndoUpTicks = [0,2,4,6,8];
const cEndoDownTerms = ['Negative regulation of cell migration','Regulation of interferon-γ signaling','Actin filament organization','Regulation of GTPase activity','Protein N-linked glycosylation','Transcription initiation','Phospholipid translocation','Zinc II ion transmembrane import','Negative regulation of cell−matrix adhesion','Negative regulation of neurogenesis','Positive regulation of endocytosis'];
const cEndoDownValues = [5.59,4.29,3.79,3.32,3.09,3.05,2.98,2.74,2.67,2.42,2.15];
const cEndoDownTicks = [0,1,2,3,4,5];
const per1UpTerms = ['Regulation of epithelial cell proliferation','Positive regulation of transcription','Cellular response to hormones','Regulation of blood vessel endothelial migration','Cellular response to oxidative stress','Artery development','Cellular response to glucocorticoids','ECM organization','Calcium ion import','Regulation of angiogenesis','Response to cytokines'];
const per1UpValues = [5.75,5.2,4.41,3.57,3.41,3.12,3.04,2.83,2.4,2.34,2.27];
const per1UpTicks = [0,1,2,3,4,5];
const per1DownTerms = ['Regulation of cardiac muscle contraction','Cation transmembrane transport','Regulation of synaptic transmission','Ion transmembrane transporter activity','Regulation of cell communication','Apoptotic mitochondrial changes','Cellular response to sterols','Regulation of cell migration','Regulation of calcium ion-dependent exocytosis'];
const per1DownValues = [5.44,3.78,3.69,3.39,2.94,2.88,2.67,2.35,2.32];
const per1DownTicks = [0,1,2,3,4,5];

/* ---------- panels i, k data ---------- */
const violinGroups = ['Control','AD'];
const insrTicks = [0.20,0.15,0.10,0.05,0,-0.05];
const insrTickLabels = ['0.20','0.15','0.10','0.05','0','−0.05'];
const insrControlLevels = [.135,.125,.118,.105,.09,.08,.07,.06,.05,.04,.033,.02,.01,0,-.005,-.015];
const insrControlDensity = [.4,1.2,1.8,.6,1,3,4,6,8.5,12,13.3,10,5,3,2,.4];
const insrAdLevels = [.165,.15,.14,.125,.105,.09,.08,.07,.06,.05,.04,.03,.02,.01,0,-.01,-.02];
const insrAdDensity = [.4,1.5,2,1.5,1.5,3,6,8,9,10,11,13,10,6,3,1.5,.4];
const insrMedians = [.033,.044];
const apodTicks = [15,10,5,0,-5];
const apodTickLabels = ['15','10','5','0','−5'];
const apodControlLevels = [3.6,3,2.5,2,1.5,1,.5,.1,0,-.1,-.4,-.7];
const apodControlDensity = [.3,2,1,2.5,1,2.5,2,5,13,5,1.5,.3];
const apodAdLevels = [13.5,12,11,10,9,8,7,6,5.5,5,4,3,2,1,0,-1,-1.5,-2.5];
const apodAdDensity = [.3,2.5,3,4,5,6,8,11,12,11,8,6,5,6.5,8,4.5,2,.3];
const apodAdQuartiles = [6,5,2.5];

/* ---------- helpers ---------- */
const NS = 'http://www.w3.org/2000/svg';
const root = document.getElementById('figure');
function mk(tag, attrs, parent){
  const el = document.createElementNS(NS, tag);
  for (const k in attrs) el.setAttribute(k, attrs[k]);
  (parent || root).appendChild(el);
  return el;
}
function txt(x, y, str, attrs, parent){
  const el = mk('text', Object.assign({x:x, y:y}, attrs), parent);
  el.textContent = str;
  return el;
}
function linear(d0, d1, r0, r1){ return v => r0 + (v - d0) * (r1 - r0) / (d1 - d0); }
function lerpStops(stops, t){
  if (t <= stops[0][0]) return stops[0][1];
  for (let i = 1; i < stops.length; i++){
    if (t <= stops[i][0]){
      const a = stops[i-1], b = stops[i], f = (t - a[0]) / (b[0] - a[0]);
      const ca = a[1], cb = b[1];
      return [0,1,2].map(j => Math.round(ca[j] + (cb[j]-ca[j]) * f));
    }
  }
  return stops[stops.length-1][1];
}
const rgb = c => 'rgb(' + c.join(',') + ')';
const coefStops = [[-1,[0,0,255]],[-.5,[150,112,255]],[0,[255,255,255]],[.5,[255,144,120]],[1,[255,0,0]]];
const coefColor = v => rgb(lerpStops(coefStops, v));
const stripeColor = v => coefColor(Math.abs(v) < .5 ? v * .7 : v);
const cellStops = [[0,[69,117,180]],[.215,[79,131,184]],[.4,[127,175,211]],[.52,[164,203,226]],[.62,[195,223,235]],[.85,[254,232,160]],[.88,[253,210,127]],[1,[215,48,39]]];
const geneStops = [[0,[69,117,180]],[.25,[192,220,234]],[.55,[254,238,166]],[.7,[253,210,127]],[.8,[248,141,82]],[.88,[240,112,64]],[.94,[226,80,47]],[1,[215,48,39]]];
function fmtThousand(n){ return n >= 1000 ? Math.floor(n/1000) + ',' + String(n%1000).padStart(3,'0') : String(n); }

/* ---------- panel a ---------- */
(function(){
  const g = document.getElementById('panel-a');
  const top = 28.3, rowH = 19.06, n = clusterNames.length;
  const cellFrac = v => (Math.log(v) - Math.log(289)) / (Math.log(6195) - Math.log(289));
  const geneFrac = v => (v - 14137) / (15015 - 14137);
  const barCx = 161.7;
  const barLen = linear(0, 349, 0, 49.3);
  const binX = linear(0, 62, 216, 401.7);
  for (let i = 0; i < n; i++){
    const y = top + i * rowH;
    const cy = y + rowH / 2;
    let el = mk('rect', {x:48.7, y:y+.3, width:32.3, height:rowH-.6, fill:rgb(lerpStops(cellStops, cellFrac(cellCounts[i])))}, g);
    
    
    el = txt(64.8, cy+3.8, fmtThousand(cellCounts[i]), {'font-size':10.5, 'text-anchor':'middle'}, g);
    
    
    el = mk('rect', {x:82.7, y:y+.3, width:36.8, height:rowH-.6, fill:rgb(lerpStops(geneStops, geneFrac(geneCounts[i])))}, g);
    
    
    el = txt(101, cy+3.8, fmtThousand(geneCounts[i]), {'font-size':10.5, 'text-anchor':'middle'}, g);
    
    
    el = mk('rect', {x:barCx-barLen(downCounts[i]), y:y+3, width:barLen(downCounts[i]), height:rowH-6.5, fill:'#2222ff'}, g);
    
    
    el = mk('rect', {x:barCx, y:y+3, width:barLen(upCounts[i]), height:rowH-6.5, fill:'#ff2a2a'}, g);
    
    
    el = mk('line', {x1:124, x2:210, y1:cy, y2:cy, stroke:'#777', 'stroke-width':.7, opacity:.7}, g);
    
    
    el = txt(124, cy+3.8, String(downCounts[i]), {'font-size':10.5}, g);
    
    
    el = txt(210.5, cy+3.8, String(upCounts[i]), {'font-size':10.5, 'text-anchor':'end'}, g);
    
    
    coefBinRows[i].forEach((v, b) => {
      if (v === 0) return;
      const c = mk('rect', {x:binX(b), y:y, width:binX(1)-binX(0)+.3, height:rowH, fill:stripeColor(v/10)}, g);
      
      
    });
    el = mk('rect', {x:402, y:y, width:5.5, height:rowH, fill:clusterPalette[clusterNames[i]]}, g);
    
    
    el = txt(411.5, cy+4.5, clusterNames[i], {'font-size':12.8}, g);
    
    
  }
  [3,5,7,10].forEach(r => {
    const l = mk('line', {x1:216, x2:401.7, y1:top+r*rowH, y2:top+r*rowH, stroke:'#999', 'stroke-width':.8}, g);
    
    
  });
  let box = mk('rect', {x:121.5, y:28, width:94.5, height:210, fill:'none', stroke:'#666', 'stroke-width':1}, g);
  
  
  box = mk('rect', {x:216, y:28, width:185.7, height:210, fill:'none', stroke:'#777', 'stroke-width':1}, g);
  
  
})();

/* ---------- panel b ---------- */
(function(){
  const g = document.getElementById('panel-b');
  const n = clusterNames.length;
  const x = linear(0, n, 489, 662.7);
  const y = linear(0, n, 40.7, 204.3);
  const cw = x(1)-x(0), ch = y(1)-y(0);
  const shade = f => Math.max(.12, Math.min(1, (f - .04) / .13));
  for (let i = 0; i < n; i++){
    let el = mk('rect', {x:x(i)+.5, y:y(i)+.5, width:cw-1, height:ch-1, fill:'#cdcdcd'}, g);
    
    
    el = txt(x(i)+cw/2, y(i)+6.5, String(upCounts[i]), {'font-size':6.8, 'text-anchor':'middle', fill:'#e57373'}, g);
    
    
    el = txt(x(i)+cw/2, y(i)+13, String(downCounts[i]), {'font-size':6.8, 'text-anchor':'middle', fill:'#5a5ad6'}, g);
    
    
    el = mk('rect', {x:664.5, y:y(i), width:5, height:ch, fill:clusterPalette[clusterNames[i]]}, g);
    
    
    el = txt(675, y(i)+ch/2+4.5, clusterNames[i], {'font-size':12.5}, g);
    
    
    el = mk('rect', {x:x(i), y:206.7, width:cw, height:5, fill:clusterPalette[clusterNames[i]]}, g);
    
    
    const lx = x(i)+cw/2+4.5;
    el = txt(0, 0, clusterNames[i], {'font-size':12.5, 'text-anchor':'end', transform:'translate('+lx+',217) rotate(-90)'}, g);
    
    
  }
  sharedUpPairs.forEach(p => {
    const f = p[2] / Math.min(upCounts[p[0]], upCounts[p[1]]);
    let el = mk('rect', {x:x(p[1])+.5, y:y(p[0])+.5, width:cw-1, height:ch-1, fill:'#ff0000', 'fill-opacity':shade(f)}, g);
    
    
    el = txt(x(p[1])+cw/2, y(p[0])+ch/2+3.8, String(p[2]), {'font-size':10.3, 'text-anchor':'middle'}, g);
    
    
  });
  sharedDownPairs.forEach(p => {
    const f = p[2] / Math.min(downCounts[p[0]], downCounts[p[1]]);
    let el = mk('rect', {x:x(p[1])+.5, y:y(p[0])+.5, width:cw-1, height:ch-1, fill:'#0000ff', 'fill-opacity':shade(f)}, g);
    
    
    el = txt(x(p[1])+cw/2, y(p[0])+ch/2+3.8, String(p[2]), {'font-size':10.3, 'text-anchor':'middle'}, g);
    
    
  });
  for (let i = 0; i <= n; i++){
    let l = mk('line', {x1:x(i), x2:x(i), y1:y(0), y2:y(n), stroke:'#e4e4e4', 'stroke-width':.7}, g);
    
    
    l = mk('line', {x1:x(0), x2:x(n), y1:y(i), y2:y(i), stroke:'#e4e4e4', 'stroke-width':.7}, g);
    
    
  }
  [0,3,5,7,10,11].forEach(i => {
    let l = mk('line', {x1:x(i), x2:x(i), y1:y(0), y2:y(n), stroke:'#666', 'stroke-width':1}, g);
    
    
    l = mk('line', {x1:x(0), x2:x(n), y1:y(i), y2:y(i), stroke:'#666', 'stroke-width':1}, g);
    
    
  });
})();

/* ---------- panel c ---------- */
function drawGeneHeatmap(prefix, clusters, genes, values, left, right, labelLeft, top, bottom, geneX){
  const g = document.getElementById('panel-c');
  const x = linear(0, 11, left, right);
  const y = linear(0, genes.length, top, bottom);
  const cw = x(1)-x(0), rh = y(1)-y(0);
  genes.forEach((gene, r) => {
    let el = mk('rect', {x:labelLeft, y:y(r)+.2, width:left-labelLeft-2.2, height:rh-.4, fill:clusterPalette[clusters[r]]}, g);
    
    
    el = txt(left-3.2, y(r)+rh/2+3.5, clusters[r], {'font-size':9.8, 'text-anchor':'end', fill:'#222', 'fill-opacity':.85}, g);
    
    
    el = txt(geneX, y(r)+rh/2+3.6, gene, {'font-size':10.2}, g);
    
    
    values[r].forEach((v, c) => {
      if (v === 0) return;
      const cell = mk('rect', {x:x(c), y:y(r), width:cw, height:rh, fill:coefColor(v)}, g);
      
      
    });
    el = mk('line', {x1:left, x2:right, y1:y(r), y2:y(r), stroke:'#000', 'stroke-opacity':.06, 'stroke-width':.7}, g);
    
    
  });
  clusterNames.forEach((name, c) => {
    let el = mk('line', {x1:x(c), x2:x(c), y1:top, y2:bottom, stroke:'#000', 'stroke-opacity':.06, 'stroke-width':.7}, g);
    
    
    el = mk('rect', {x:x(c), y:bottom+1, width:cw, height:4.5, fill:clusterPalette[name]}, g);
    
    
    el = txt(0, 0, name, {'font-size':11, 'text-anchor':'end', transform:'translate('+(x(c)+cw/2+4)+','+(bottom+10)+') rotate(-90)'}, g);
    
    
  });
  const frame = mk('rect', {x:left, y:top, width:right-left, height:bottom-top, fill:'none', stroke:'#aaa', 'stroke-width':1}, g);
  
  
}
drawGeneHeatmap('up', upHeatClusters, upHeatGenes, upHeatValues, 799, 909, 759, 32.3, 523.3, 914);
drawGeneHeatmap('down', downHeatClusters, downHeatGenes, downHeatValues, 1035.7, 1145.7, 997, 32, 522.7, 1150.5);

/* ---------- panels d-g bar charts ---------- */
function drawBarChart(groupId, prefix, terms, values, ticks, color, cfg){
  const g = document.getElementById(groupId);
  const x = linear(0, ticks[ticks.length-1], cfg.x0, cfg.xMax);
  terms.forEach((term, i) => {
    const y = cfg.top + i * cfg.pitch;
    let el = mk('rect', {x:cfg.x0, y:y, width:x(values[i])-cfg.x0, height:cfg.h, fill:color, stroke:'#999', 'stroke-width':.5}, g);
    
    
    el = txt(cfg.labelX, y+cfg.h/2+4.2, term, {'font-size':cfg.fs, 'text-anchor':'end'}, g);
    
    
  });
  const axis = mk('line', {x1:cfg.x0, x2:x(ticks[ticks.length-1]), y1:cfg.axisY, y2:cfg.axisY, stroke:'#888', 'stroke-width':1}, g);
  
  
  ticks.forEach(t => {
    let el = mk('line', {x1:x(t), x2:x(t), y1:cfg.axisY, y2:cfg.axisY+6, stroke:'#888', 'stroke-width':1}, g);
    
    
    el = txt(x(t), cfg.axisY+22, String(t), {'font-size':12, 'text-anchor':'middle'}, g);
    
    
  });
}
drawBarChart('panel-d','cendo-up',cEndoUpTerms,cEndoUpValues,cEndoUpTicks,'#ff0000',{x0:243.3,xMax:381.3,top:318.3,pitch:14.47,h:12.4,axisY:506.7,labelX:238.5,fs:12.4});
drawBarChart('panel-e','cendo-down',cEndoDownTerms,cEndoDownValues,cEndoDownTicks,'#0000ff',{x0:610.3,xMax:720.3,top:314,pitch:17.7,h:15,axisY:506.7,labelX:604,fs:12.2});
drawBarChart('panel-f','per1-up',per1UpTerms,per1UpValues,per1UpTicks,'#ff0000',{x0:271.3,xMax:378.3,top:615,pitch:13.85,h:12,axisY:769.3,labelX:263.5,fs:12.35});
drawBarChart('panel-g','per1-down',per1DownTerms,per1DownValues,per1DownTicks,'#0000ff',{x0:271.3,xMax:384.3,top:860,pitch:14.7,h:12,axisY:993,labelX:263.5,fs:12.35});

/* ---------- panels i, k violins ---------- */
function smoothPath(pts){
  let d = 'M' + pts[0][0].toFixed(2) + ' ' + pts[0][1].toFixed(2);
  for (let i = 1; i < pts.length - 1; i++){
    const mx = (pts[i][0] + pts[i+1][0]) / 2, my = (pts[i][1] + pts[i+1][1]) / 2;
    d += 'Q' + pts[i][0].toFixed(2) + ' ' + pts[i][1].toFixed(2) + ' ' + mx.toFixed(2) + ' ' + my.toFixed(2);
  }
  const last = pts[pts.length-1];
  return d + 'L' + last[0].toFixed(2) + ' ' + last[1].toFixed(2);
}
function drawViolin(g, name, cx, levels, density, yScale, fill){
  const right = levels.map((v, i) => [cx + density[i], yScale(v)]);
  const left = levels.map((v, i) => [cx - density[i], yScale(v)]).reverse();
  const el = mk('path', {d:smoothPath(right) + smoothPath(left).replace('M','L') + 'Z', fill:fill, stroke:'#222', 'stroke-width':1}, g);
  
  
}
function widthAt(levels, density, v){
  for (let i = 1; i < levels.length; i++){
    if (v <= levels[i-1] && v >= levels[i]){
      return density[i-1] + (density[i]-density[i-1]) * (levels[i-1]-v) / (levels[i-1]-levels[i]);
    }
  }
  return 0;
}
function drawViolinAxes(g, prefix, ticks, tickLabels, yScale, xs, axisBottomY){
  let el = mk('line', {x1:864, x2:864, y1:yScale(ticks[0]), y2:axisBottomY, stroke:'#aaa', 'stroke-width':1}, g);
  
  
  el = mk('line', {x1:864, x2:953.3, y1:axisBottomY, y2:axisBottomY, stroke:'#aaa', 'stroke-width':1}, g);
  
  
  ticks.forEach((t, i) => {
    let e = mk('line', {x1:859, x2:864, y1:yScale(t), y2:yScale(t), stroke:'#888', 'stroke-width':1}, g);
    
    
    e = txt(851, yScale(t)+4, tickLabels[i], {'font-size':12.2, 'text-anchor':'end'}, g);
    
    
  });
  violinGroups.forEach((name, i) => {
    let e = mk('line', {x1:xs[i], x2:xs[i], y1:axisBottomY, y2:axisBottomY+5, stroke:'#888', 'stroke-width':1}, g);
    
    
    e = txt(0, 0, name, {'font-size':13, 'text-anchor':'end', transform:'translate('+(xs[i]+8)+','+(axisBottomY+14)+') rotate(-45)'}, g);
    
    
  });
}
(function(){
  const g = document.getElementById('panel-i');
  const y = linear(-0.05, 0.20, 769.3, 634.7);
  const xs = [891.3, 926.7];
  drawViolinAxes(g, 'i', insrTicks, insrTickLabels, y, xs, 769.3);
  drawViolin(g, 'insr-control-violin', xs[0], insrControlLevels, insrControlDensity, y, '#74c0fc');
  drawViolin(g, 'insr-ad-violin', xs[1], insrAdLevels, insrAdDensity, y, '#c27c6e');
  let m = widthAt(insrControlLevels, insrControlDensity, insrMedians[0]);
  let el = mk('line', {x1:xs[0]-m, x2:xs[0]+m, y1:y(insrMedians[0]), y2:y(insrMedians[0]), stroke:'#111', 'stroke-width':1.1}, g);
  
  
  m = widthAt(insrAdLevels, insrAdDensity, insrMedians[1]);
  el = mk('line', {x1:xs[1]-m, x2:xs[1]+m, y1:y(insrMedians[1]), y2:y(insrMedians[1]), stroke:'#111', 'stroke-width':1.1}, g);
  
  
})();
(function(){
  const g = document.getElementById('panel-k');
  const y = linear(-5, 15, 992.7, 858.7);
  const xs = [889.3, 927.3];
  drawViolinAxes(g, 'k', apodTicks, apodTickLabels, y, xs, 992.7);
  drawViolin(g, 'apod-control-violin', xs[0], apodControlLevels, apodControlDensity, y, '#74c0fc');
  drawViolin(g, 'apod-ad-violin', xs[1], apodAdLevels, apodAdDensity, y, '#c27c6e');
  let el = mk('line', {x1:864, x2:953.3, y1:y(0), y2:y(0), stroke:'#111', 'stroke-width':1.2, 'stroke-dasharray':'1.5 2'}, g);
  
  
  apodAdQuartiles.forEach(q => {
    const m = widthAt(apodAdLevels, apodAdDensity, q);
    const l = mk('line', {x1:xs[1]-m, x2:xs[1]+m, y1:y(q), y2:y(q), stroke:'#111', 'stroke-width':.8, 'stroke-dasharray':'1.5 1.5'}, g);
    
    
  });
})();

/* ---------- micrograph texture (decorative, not chart data) ---------- */
function speckle(id, count, x0, y0, w, h, fill, radius, seed){
  const g = document.getElementById(id);
  let s = seed;
  const next = () => { s = (s * 16807) % 2147483647; return (s % 100000) / 100000; };
  for (let i = 0; i < count; i++){
    const c = mk('circle', {cx:(x0 + next()*w).toFixed(1), cy:(y0 + next()*h).toFixed(1), r:(radius*(.7+next()*.6)).toFixed(1), fill:fill, 'fill-opacity':.8}, g);
    
    
  }
}
speckle('h1-dots', 520, 35, 54, 481, 479, '#5aa3ab', 2.2, 12345);
speckle('h2-dots', 50, 531, 54, 481, 479, '#5aa3ab', 2.2, 777);
speckle('h2-dots', 220, 531, 225, 200, 90, '#3f8aa3', 2.4, 2221);
speckle('h2-dots', 170, 600, 420, 200, 113, '#3f8aa3', 2.4, 3331);
speckle('h2-dots', 320, 820, 390, 192, 143, '#3f8aa3', 2.4, 4441);
speckle('h2-dots', 160, 780, 170, 110, 260, '#3f8aa3', 2.4, 5551);
speckle('h2-dots', 80, 930, 300, 82, 90, '#3f8aa3', 2.4, 6661);
speckle('h3-dots', 70, 32, 548, 481, 480, '#7db8cc', 7, 8111);
speckle('h4-dots', 70, 528, 548, 482, 480, '#5aa8cc', 8, 9211);
speckle('h4-dots', 30, 620, 560, 220, 200, '#4a98c4', 9, 9377);
(function(){
  const inset = document.getElementById('h3-red');
  const spotX = [208,165,232,195,228,255,236,236,205,185,215,262,235,268,298,300,340,360,345,375,330,380,405,400,430,360,465];
  const spotY = [605,622,648,660,705,708,725,745,735,735,770,772,818,815,862,840,855,880,905,910,890,965,965,990,1010,995,1020];
  spotX.forEach((px, i) => {
    let c = mk('circle', {cx:px, cy:spotY[i], r:14, fill:'#d11a55', 'fill-opacity':.75}, inset);
    
    
    c = mk('circle', {cx:px, cy:spotY[i], r:7, fill:'#4a1238'}, inset);
    
    
  });
})();
</script>
</body>
</html>
